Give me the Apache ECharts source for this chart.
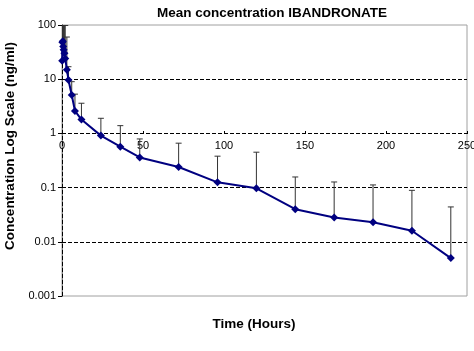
<!DOCTYPE html>
<html>
<head>
<meta charset="utf-8">
<script src="https://cdn.jsdelivr.net/npm/echarts@6/dist/echarts.min.js"></script>
<style>
html,body{margin:0;padding:0;background:#fff;}
#chart{width:474px;height:351px;}
</style>
</head>
<body>
<div id="chart"></div>
<script>
// sampling times (hours)
var times = [0.1, 0.25, 0.5, 0.75, 1, 1.5, 2, 3, 4, 6, 8, 12, 24, 36, 48, 72, 96, 120, 144, 168, 192, 216, 240];
// mean concentration (ng/ml)
var meanConc = [22, 48, 50, 40, 35, 30, 24, 15, 9.7, 5.1, 2.6, 1.8, 0.91, 0.57, 0.36, 0.24, 0.125, 0.097, 0.040, 0.028, 0.023, 0.016, 0.005];
// upper end of error bar (mean + SD)
var upperConc = [100, 100, 100, 100, 100, 100, 98, 60, 17, 9, 5.3, 3.6, 1.9, 1.39, 0.79, 0.66, 0.38, 0.45, 0.157, 0.127, 0.112, 0.089, 0.044];
var yTicks = [0.001, 0.01, 0.1, 1, 10, 100];
var xTicks = [0, 50, 100, 150, 200, 250];

var myChart = echarts.init(document.getElementById('chart'));

var meanData = [], errData = [];
for (var i = 0; i < times.length; i++) {
    meanData.push([times[i], meanConc[i]]);
    errData.push([times[i], meanConc[i], upperConc[i]]);
}

var font = 'Arial, "Liberation Sans", sans-serif';

var option = {
    animation: false,
    title: [
        {
            text: 'Mean concentration IBANDRONATE',
            left: 267, top: 1, textAlign: 'center',
            textStyle: {fontSize: 13.5, fontWeight: 'bold', color: '#000', fontFamily: font}
        },
        {
            text: 'Time (Hours)',
            left: 249, top: 312, textAlign: 'center',
            textStyle: {fontSize: 13.5, fontWeight: 'bold', color: '#000', fontFamily: font}
        }
    ],
    graphic: [
        {
            type: 'text',
            x: 10, y: 146,
            rotation: Math.PI / 2,
            style: {
                text: 'Concentration Log Scale (ng/ml)',
                align: 'center', verticalAlign: 'middle',
                font: 'bold 13.5px ' + font, fill: '#000'
            }
        }
    ],
    grid: {
        left: 62, right: 7, top: 25, bottom: 55,
        outerBoundsMode: 'none',
        containLabel: false,
        show: true, borderColor: '#a0a0a0', borderWidth: 1
    },
    xAxis: {
        type: 'value',
        min: xTicks[0], max: xTicks[xTicks.length - 1], interval: 50,
        position: 'bottom',
        offset: -162,
        axisLine: {show: false},
        axisTick: {show: true, inside: true, length: 3, lineStyle: {color: '#000'}},
        axisLabel: {color: '#000', fontSize: 11, fontFamily: font, margin: 6},
        splitLine: {show: false}
    },
    yAxis: {
        type: 'log',
        logBase: 10,
        min: yTicks[0], max: yTicks[yTicks.length - 1],
        axisLine: {show: true, lineStyle: {color: '#000', type: 'dashed', width: 1}},
        axisTick: {show: true, length: 4, lineStyle: {color: '#000'}},
        axisLabel: {
            color: '#000', fontSize: 11, fontFamily: font, margin: 6,
            formatter: function (v) { return parseFloat(v.toPrecision(6)).toString(); }
        },
        splitLine: {
            show: true, showMinLine: false, showMaxLine: false,
            lineStyle: {color: '#000', type: 'dashed', width: 1}
        }
    },
    series: [
        {
            name: 'sd',
            type: 'custom',
            clip: true,
            z: 1,
            data: errData,
            renderItem: function (params, api) {
                var p0 = api.coord([api.value(0), api.value(1)]);
                var p1 = api.coord([api.value(0), api.value(2)]);
                var w = 3;
                return {
                    type: 'group',
                    children: [
                        {type: 'line', shape: {x1: p0[0], y1: p0[1], x2: p1[0], y2: p1[1]},
                         style: {stroke: '#333', lineWidth: 1}},
                        {type: 'line', shape: {x1: p1[0] - w, y1: p1[1], x2: p1[0] + w, y2: p1[1]},
                         style: {stroke: '#333', lineWidth: 1}}
                    ]
                };
            }
        },
        {
            name: 'mean',
            type: 'line',
            z: 3,
            data: meanData,
            symbol: 'diamond',
            symbolSize: 8,
            lineStyle: {color: '#000080', width: 2},
            itemStyle: {color: '#000080'}
        }
    ]
};
myChart.setOption(option);
</script>
</body>
</html>
